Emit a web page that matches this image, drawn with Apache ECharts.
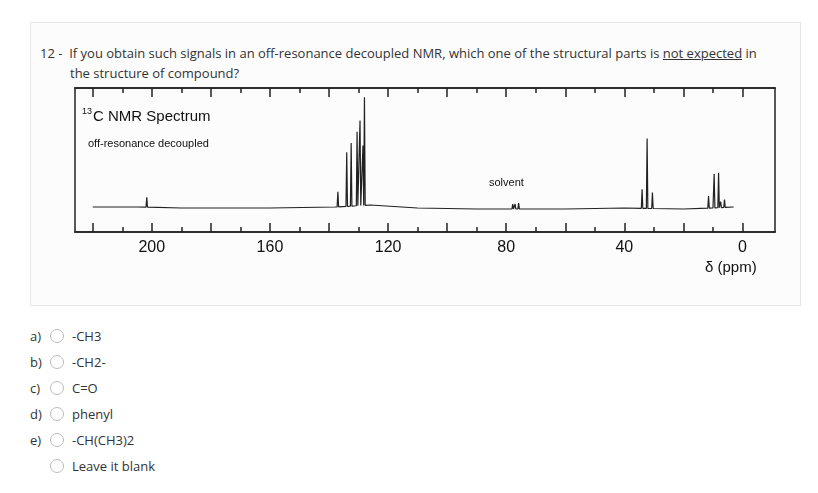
<!DOCTYPE html>
<html><head><meta charset="utf-8">
<script src="https://cdn.jsdelivr.net/npm/echarts@6/dist/echarts.min.js"></script>
<style>
body{margin:0;width:818px;height:493px;background:#fff;font-family:"Open Sans",sans-serif;color:#333;font-size:13px;position:relative;overflow:hidden}
#box{position:absolute;left:30px;top:22px;width:769px;height:282px;border:1px solid #e6e6e6;background:#fcfcfc}
.q{position:absolute;white-space:nowrap}
.opt{position:absolute;left:30px;white-space:nowrap;height:16px;line-height:16px}
.opt i{position:absolute;left:20px;top:1px;width:12px;height:12px;border:1px solid #bbb;border-radius:50%;background:#fff}
.opt span{position:absolute;left:42px}
#chart{position:absolute;left:60px;top:80px;width:730px;height:200px}
</style></head><body>
<div id="box"></div>
<div class="q" style="left:40px;top:44px">12 -&nbsp; If you obtain such signals in an off-resonance decoupled NMR, which one of the structural parts is <u>not expected</u> in</div>
<div class="q" style="left:70px;top:64px">the structure of compound?</div>
<div id="chart"></div>
<script>
// peak positions (ppm) and heights above baseline
var peakPpm    = [201.7, 137, 134, 132.5, 130.5, 129.5, 128.5, 128, 77.8, 77, 75.8, 34, 32.3, 30.5, 11.5, 9.6, 8.1, 7.4, 6.1];
var peakHeight = [10, 15, 54, 63, 74, 85, 60, 108, 5, 5, 6, 19, 70, 16, 12, 34, 35, 6, 8];
// baseline (ppm, level)
var basePpm   = [220, 205, 190, 160, 138, 126, 110, 90, 60, 40, 20, 10, 3];
var baseLevel = [25, 25, 24, 24, 25, 27, 24, 23, 23, 24, 23, 24, 25];
var majorTicks = [0, 20, 40, 60, 80, 100, 120, 140, 160, 180, 200, 220];
var minorTicks = [10, 30, 50, 70, 90, 110, 130, 150, 170, 190, 210];
var tickLabels = [0, 40, 80, 120, 160, 200];

function baseAt(p){
  for (var i = 0; i < basePpm.length - 1; i++) {
    if (p <= basePpm[i] && p >= basePpm[i+1]) {
      var t = (basePpm[i] - p) / (basePpm[i] - basePpm[i+1]);
      return baseLevel[i] + t * (baseLevel[i+1] - baseLevel[i]);
    }
  }
  return baseLevel[baseLevel.length - 1];
}
// build spectrum line: baseline points plus narrow spikes
var pts = [];
basePpm.forEach(function(p, i){ pts.push([p, baseLevel[i]]); });
peakPpm.forEach(function(p, i){
  var b = baseAt(p);
  pts.push([p + 0.25, b]); pts.push([p, b + peakHeight[i]]); pts.push([p - 0.25, b]);
});
pts.sort(function(a, b){ return b[0] - a[0]; });

function axis(pos, vals, len, labels){
  return {
    type: 'value', position: pos, min: -11, max: 226, inverse: true,
    axisLine: {show: true, onZero: false, lineStyle: {color: '#222', width: 1.5}},
    splitLine: {show: false},
    axisTick: {show: true, inside: true, length: len, customValues: vals, lineStyle: {color: '#222', width: 1.5}},
    axisLabel: labels ? {show: true, customValues: tickLabels, color: '#111', fontSize: 16, margin: 8, fontFamily: 'Liberation Sans'} : {show: false}
  };
}
function yaxis(pos){
  return {type: 'value', min: 0, max: 144, position: pos,
          axisLine: {show: true, onZero: false, lineStyle: {color: '#222', width: 1.5}},
          axisTick: {show: false}, axisLabel: {show: false}, splitLine: {show: false}};
}
var chart = echarts.init(document.getElementById('chart'));
chart.setOption({
  animation: false,
  grid: {left: 15, top: 8, width: 700, height: 144},
  xAxis: [axis('bottom', majorTicks, 9, true), axis('bottom', minorTicks, 5, false),
          axis('top', majorTicks, 9, false), axis('top', minorTicks, 5, false)],
  yAxis: [yaxis('left'), yaxis('right')],
  series: [{type: 'line', data: pts, symbol: 'none', lineStyle: {color: '#222', width: 1.2}}],
  graphic: [
    {type: 'text', left: 22, top: 27, style: {text: '13', fontSize: 9, fill: '#111', fontFamily: 'Liberation Sans'}},
    {type: 'text', left: 33, top: 29, style: {text: 'C NMR Spectrum', fontSize: 15, fill: '#111', fontFamily: 'Liberation Sans'}},
    {type: 'text', left: 28, top: 58, style: {text: 'off-resonance decoupled', fontSize: 11, fill: '#111', fontFamily: 'Liberation Sans'}},
    {type: 'text', left: 429, top: 97, style: {text: 'solvent', fontSize: 11, fill: '#111', fontFamily: 'Liberation Sans'}},
    {type: 'text', left: 645, top: 180, style: {text: 'δ (ppm)', fontSize: 15, fill: '#111', fontFamily: 'Liberation Sans'}}
  ]
});
</script>
<div class="opt" style="top:328px">a)<i></i><span>-CH3</span></div>
<div class="opt" style="top:354px">b)<i></i><span>-CH2-</span></div>
<div class="opt" style="top:380px">c)<i></i><span>C=O</span></div>
<div class="opt" style="top:406px">d)<i></i><span>phenyl</span></div>
<div class="opt" style="top:432px">e)<i></i><span>-CH(CH3)2</span></div>
<div class="opt" style="top:458px"><i></i><span>Leave it blank</span></div>
</body></html>
